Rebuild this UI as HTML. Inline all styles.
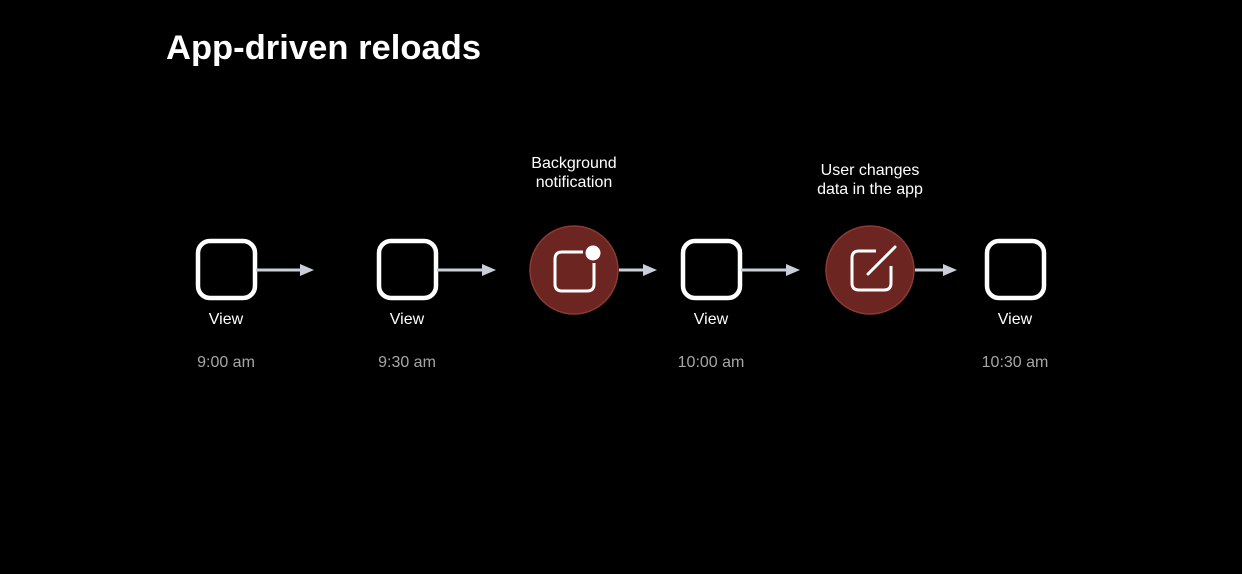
<!DOCTYPE html>
<html><head><style>
html,body{margin:0;padding:0;background:#000;width:1242px;height:574px;overflow:hidden}
svg{display:block}
</style></head><body>
<svg width="1242" height="574" viewBox="0 0 1242 574" xmlns="http://www.w3.org/2000/svg" font-family="Liberation Sans, sans-serif">
<rect width="1242" height="574" fill="#000"/>
<text x="166" y="59" fill="#fff" font-size="34.5" font-weight="bold" textLength="315">App-driven reloads</text>
<g fill="none" stroke="#fff" stroke-width="4.5">
<rect x="198" y="241" width="57" height="57" rx="12"/>
<rect x="379" y="241" width="57" height="57" rx="12"/>
<rect x="683" y="241" width="57" height="57" rx="12"/>
<rect x="987" y="241" width="57" height="57" rx="12"/>
</g>
<g stroke="#c9ced8" stroke-width="3">
<line x1="256" y1="270" x2="302" y2="270"/>
<line x1="437" y1="270" x2="484" y2="270"/>
<line x1="619" y1="270" x2="645" y2="270"/>
<line x1="741" y1="270" x2="788" y2="270"/>
<line x1="915" y1="270" x2="945" y2="270"/>
</g>
<g fill="#c9ced8">
<polygon points="300,264 314,270 300,276"/>
<polygon points="482,264 496,270 482,276"/>
<polygon points="643,264 657,270 643,276"/>
<polygon points="786,264 800,270 786,276"/>
<polygon points="943,264 957,270 943,276"/>
</g>
<circle cx="574" cy="270" r="44" fill="#6c2521" stroke="#8a3a33" stroke-width="1.5"/>
<circle cx="870" cy="270" r="44" fill="#6c2521" stroke="#8a3a33" stroke-width="1.5"/>
<path d="M583 252 H562 Q555 252 555 259 V284 Q555 291 562 291 H587 Q594 291 594 284 V263" fill="none" stroke="#fff" stroke-width="3"/>
<circle cx="593" cy="253" r="7.5" fill="#fff"/>
<path d="M876 251 H859 Q852 251 852 258 V283 Q852 290 859 290 H884 Q891 290 891 283 V266" fill="none" stroke="#fff" stroke-width="3"/>
<line x1="868" y1="274" x2="895" y2="247" stroke="#fff" stroke-width="3" stroke-linecap="round"/>
<g fill="#fff" font-size="16" text-anchor="middle">
<text x="226" y="324">View</text>
<text x="407" y="324">View</text>
<text x="711" y="324">View</text>
<text x="1015" y="324">View</text>
<text x="574" y="168" font-size="16">Background</text>
<text x="574" y="187" font-size="16">notification</text>
<text x="870" y="175" font-size="16">User changes</text>
<text x="870" y="194" font-size="16">data in the app</text>
</g>
<g fill="#a6a6a6" font-size="16" text-anchor="middle">
<text x="226" y="367">9:00 am</text>
<text x="407" y="367">9:30 am</text>
<text x="711" y="367">10:00 am</text>
<text x="1015" y="367">10:30 am</text>
</g>
</svg>
</body></html>
